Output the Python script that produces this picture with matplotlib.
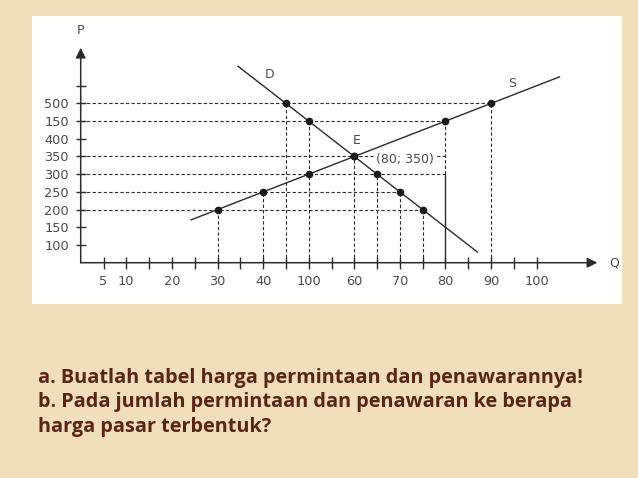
import matplotlib
matplotlib.use("Agg")
import matplotlib.pyplot as plt

# ── data ───────────────────────────────────────────────────────────────────
demand_q = [45, 50, 60, 65, 70, 75]
demand_p = [500, 450, 350, 300, 250, 200]
supply_q = [30, 40, 50, 60, 80, 90]
supply_p = [200, 250, 300, 350, 450, 500]

# drawn extent of the two curves
demand_line_q = [34.5, 87]
demand_line_p = [605, 80]
supply_line_q = [24.2, 105]
supply_line_p = [171, 575]

# dashed guides: horizontal (price, ends at quantity) and vertical (quantity, up to price)
h_guide_p = [500, 450, 350, 300, 250, 200]
h_guide_q = [90, 80, 80, 80, 70, 75]
v_guide_q = [30, 40, 45, 50, 60, 65, 70, 75, 80, 90]
v_guide_p = [200, 250, 500, 450, 350, 300, 250, 200, 450, 500]
solid_q, solid_p = 80, 300   # the 80 line is solid below 300

x_ticks = list(range(5, 105, 5))
x_labels = {5: "5", 10: "10", 20: "20", 30: "30", 40: "40", 50: "100",
            60: "60", 70: "70", 80: "80", 90: "90", 100: "100"}
y_ticks = [100, 150, 200, 250, 300, 350, 400, 450, 500, 550]
y_labels = ["100", "150", "200", "250", "300", "350", "400", "150", "500", ""]

question_lines = [
    "a. Buatlah tabel harga permintaan dan penawarannya!",
    "b. Pada jumlah permintaan dan penawaran ke berapa",
    "harga pasar terbentuk?",
]

W, H = 638, 478
INK = "#2b2b2b"
LBL = "#4a4a4a"

fig = plt.figure(figsize=(W / 100, H / 100), dpi=100, facecolor="#f0dfba")

# white card behind the chart
card = fig.add_axes([32 / W, 1 - 304 / H, 590 / W, 288 / H])
card.set_facecolor("white")
card.set_xticks([])
card.set_yticks([])
for s in card.spines.values():
    s.set_visible(False)

# axes placed so Q=0 / P=50 sits at the drawn origin
x0, y0 = 80.7, 262.7
ax = fig.add_axes([x0 / W, 1 - y0 / H, (600 - x0) / W, (y0 - 40) / H])
ax.set_xlim(0, (600 - x0) / 4.56)
ax.set_ylim(50, 50 + (y0 - 40) / 0.354)
ax.set_facecolor("none")
for s in ax.spines.values():
    s.set_visible(False)

# axes with arrow heads
ax.annotate("", xy=(113.3, 50), xytext=(0, 50), annotation_clip=False,
            arrowprops=dict(arrowstyle="-|>,head_length=0.6,head_width=0.3",
                            color=INK, lw=1.1, shrinkA=0, shrinkB=0))
ax.annotate("", xy=(0, 657), xytext=(0, 50), annotation_clip=False,
            arrowprops=dict(arrowstyle="-|>,head_length=0.6,head_width=0.3",
                            color=INK, lw=1.1, shrinkA=0, shrinkB=0))
ax.text(116, 50, "Q", ha="left", va="center", fontsize=9, color=LBL)
ax.text(0, 707, "P", ha="center", va="center", fontsize=9, color=LBL,
        clip_on=False)

ax.set_xticks(x_ticks)
ax.set_xticklabels([x_labels.get(t, "") for t in x_ticks])
ax.set_yticks(y_ticks)
ax.set_yticklabels(y_labels)
ax.tick_params(axis="x", direction="inout", length=8, width=1, color=INK,
               labelsize=9.3, labelcolor=LBL, pad=5)
ax.tick_params(axis="y", direction="inout", length=7, width=1, color=INK,
               labelsize=9.3, labelcolor=LBL, pad=5)

dash = dict(color=INK, lw=0.8, linestyle=(0, (3, 2)))
for p, q in zip(h_guide_p, h_guide_q):
    ax.plot([0, q], [p, p], **dash)
for q, p in zip(v_guide_q, v_guide_p):
    lo = solid_p if q == solid_q else 50
    ax.plot([q, q], [lo, p], **dash)
ax.plot([solid_q, solid_q], [50, solid_p], color=INK, lw=1.0)

ax.plot(demand_line_q, demand_line_p, color=INK, lw=1.0)
ax.plot(supply_line_q, supply_line_p, color=INK, lw=1.0)
ax.plot(demand_q, demand_p, "o", color="#1a1a1a", ms=4.5, zorder=5)
ax.plot(supply_q, supply_p, "o", color="#1a1a1a", ms=4.5, zorder=5)

ax.text(41.5, 583, "D", ha="center", va="center", fontsize=9, color=LBL)
ax.text(94.7, 557, "S", ha="center", va="center", fontsize=9, color=LBL)
ax.text(60.5, 394, "E", ha="center", va="center", fontsize=9, color=LBL)
ax.text(71.1, 341, "(80; 350)", ha="center", va="center", fontsize=9,
        color=LBL, bbox=dict(facecolor="white", edgecolor="none", pad=0.5))

# question text below the chart
for i, line in enumerate(question_lines):
    fig.text(38 / W, 1 - (383 + 24.3 * i) / H, line, ha="left", va="baseline",
             fontsize=14.3, fontweight="bold", family="Open Sans", color="#5a2516")

fig.savefig("out.png", dpi=100, facecolor=fig.get_facecolor())
